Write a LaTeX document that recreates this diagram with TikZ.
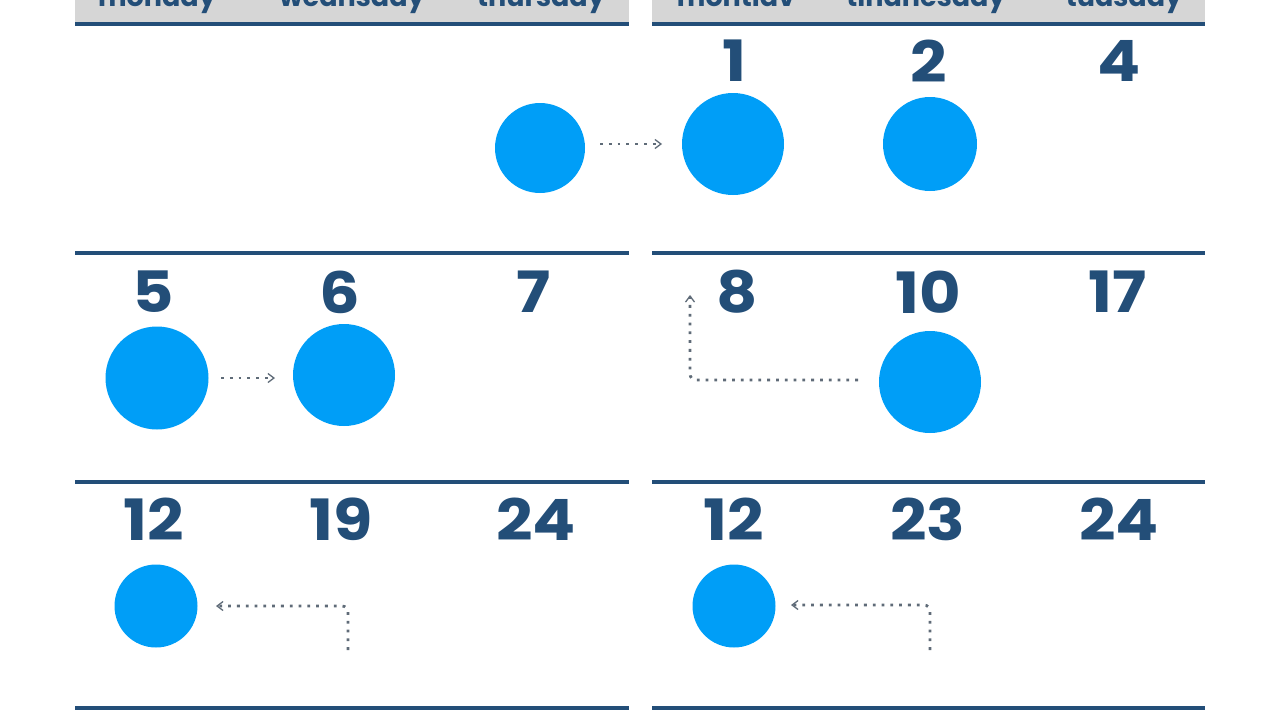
\documentclass[tikz,border=0pt]{standalone}
\usepackage{fontspec}
\setmainfont{Poppins}
\newfontfamily\numfont[FakeStretch=1.12]{Poppins}
\usetikzlibrary{arrows.meta}
\definecolor{navy}{HTML}{234E78}
\definecolor{headgray}{HTML}{D6D6D6}
\definecolor{dotgray}{HTML}{5F6B78}
\definecolor{dotblue}{HTML}{009EF7}
\tikzset{
  daynum/.style={text=navy,font=\fontsize{57}{57}\numfont\bfseries,inner sep=0pt},
  dayname/.style={text=navy,font=\fontsize{27}{27}\selectfont\bfseries,inner sep=0pt,anchor=base},
  blob/.style={circle,fill=dotblue,inner sep=0pt,minimum size=#1},
  hop/.style={line width=2.8pt,dotgray,dash pattern=on 2.8pt off 6pt,-{Straight Barb[length=6pt,width=9pt,line width=1.3pt]},rounded corners=6pt},
  rule/.style={line width=4pt,navy}
}
\begin{document}
\begin{tikzpicture}[x=1pt,y=-1pt]
  \useasboundingbox (0,0) rectangle (1280,720);
  \fill[headgray] (75,-2) rectangle (629,24);
  \fill[headgray] (652,-2) rectangle (1205,24);

  \foreach \y in {24,253,482,708} {
    \draw[rule] (75,\y) -- (629,\y);
    \draw[rule] (652,\y) -- (1205,\y);
  }

  \begin{scope}
  \clip (0,0) rectangle (1280,720);
  \node[dayname] (monday) at (157,6) {monday};
  \node[dayname] (wednsday) at (352,6) {wednsday};
  \node[dayname] (thursday) at (541,6) {thursday};
  \node[dayname] (montlav) at (736,6) {montlav};
  \node[dayname] (tinanesday) at (926,6) {tinanesday};
  \node[dayname] (tuasday) at (1124,6) {tuasday};
  \end{scope}

  \node[daynum] (n1) at (734,61) {1};
  \node[daynum] (n2) at (929,61) {2};
  \node[daynum] (n4) at (1119,61) {4};
  \node[daynum] (n5) at (153,292) {5};
  \node[daynum] (n6) at (340,292) {6};
  \node[daynum] (n7) at (534,292) {7};
  \node[daynum] (n8) at (737,292) {8};
  \node[daynum] (n10) at (928,292) {10};
  \node[daynum] (n17) at (1118,292) {17};
  \node[daynum] (n12a) at (154,519) {12};
  \node[daynum] (n19) at (341,519) {19};
  \node[daynum] (n24a) at (536,519) {24};
  \node[daynum] (n12b) at (734,519) {12};
  \node[daynum] (n23) at (928,519) {23};
  \node[daynum] (n24b) at (1119,519) {24};

  \node[blob=90pt] (thu) at (540,148) {};
  \node[blob=102pt] (first) at (733,144) {};
  \node[blob=94pt] (second) at (930,144) {};
  \node[blob=103pt] (fifth) at (157,378) {};
  \node[blob=102pt] (sixth) at (344,375) {};
  \node[blob=102pt] (tenth) at (930,382) {};
  \node[blob=83pt] (twelfa) at (156,606) {};
  \node[blob=83pt] (twelfb) at (734,606) {};

  \coordinate (a1) at (600,144);
  \coordinate (a2) at (662,144);
  \coordinate (b1) at (221,378);
  \coordinate (b2) at (275,378);
  \coordinate (c1) at (858,380);
  \coordinate (c2) at (690,295);
  \coordinate (d1) at (348,650);
  \coordinate (d2) at (216,606);
  \coordinate (e1) at (930,650);
  \coordinate (e2) at (791,605);

  \draw[hop] (a1) -- (a2);
  \draw[hop] (b1) -- (b2);
  \draw[hop] (c1) -- (690,380) -- (c2);
  \draw[hop] (d1) -- (348,606) -- (d2);
  \draw[hop] (e1) -- (930,605) -- (e2);
\end{tikzpicture}
\end{document}
